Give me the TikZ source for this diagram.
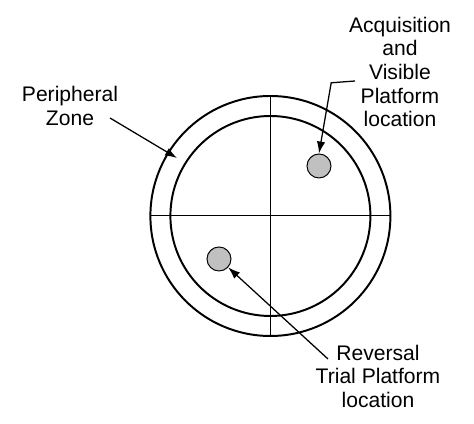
\documentclass[tikz,border=0pt]{standalone}
\usepackage{fontspec}
\setmainfont{Liberation Sans}
\usepackage{tikz}
\usetikzlibrary{arrows.meta}
\definecolor{platgray}{RGB}{192,192,192}

\begin{document}
\begin{tikzpicture}

		\useasboundingbox (0,0) rectangle (11.85,10.6);
		\tikzset{
			label text/.style={align=center, inner sep=0pt, font=\fontsize{15}{16.8}\selectfont},
			platform/.style={circle, draw=black, line width=0.7pt, fill=platgray, minimum size=0.6cm, inner sep=0pt},
			pointer/.style={line width=0.9pt, -{Latex[length=8.5pt,width=6pt]}}
		}

		% pool: outer wall and peripheral zone border
		\coordinate (pool) at (6.76, 5.2);
		\draw[line width=1.4pt] (pool) circle (3.0);
		\draw[line width=1.4pt] (pool) circle (2.5);

		% quadrant lines
		\draw[line width=0.7pt] ([xshift=-3cm]pool) -- ([xshift=3cm]pool);
		\draw[line width=0.7pt] ([yshift=-3cm]pool) -- ([yshift=3cm]pool);

		% platforms
		\node[platform] (visplat) at (7.975, 6.45) {};
		\node[platform] (revplat) at (5.475, 4.125) {};

		% labels
		\node[label text] (zone) at (1.75, 7.95) {Peripheral\\Zone};
		\node[label text] (acq) at (10.0, 8.8) {Acquisition\\and\\Visible\\Platform\\location};
		\node[label text] (rev) at (9.45, 1.19) {Reversal\\Trial Platform\\location};

		% arrows
		\coordinate (zonestart) at (2.75, 7.65);
		\coordinate (zonetip) at (4.425, 6.65);
		\draw[pointer] (zonestart) -- (zonetip);

		\coordinate (acqstart) at (8.875, 8.575);
		\coordinate (acqbend) at (8.28, 8.53);
		\draw[pointer] (acqstart) -- (acqbend) -- (visplat.north);

		\coordinate (revstart) at (8.2, 1.625);
		\draw[pointer] (revstart) -- (revplat);

\end{tikzpicture}
\end{document}
